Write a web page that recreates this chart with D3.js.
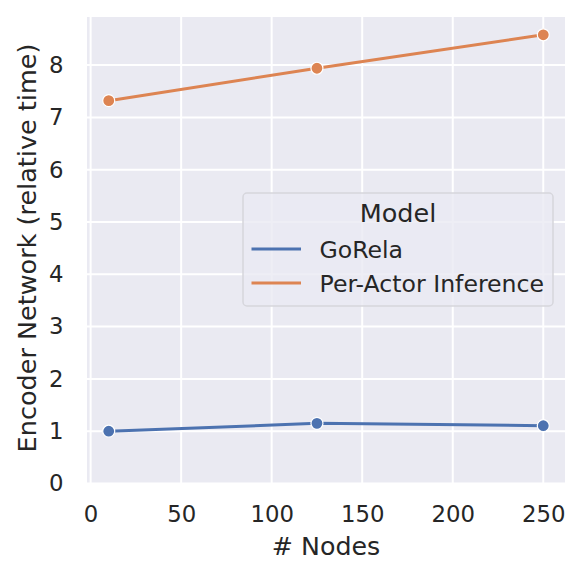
<!DOCTYPE html>
<html>
<head>
<meta charset="utf-8">
<script src="https://cdn.jsdelivr.net/npm/d3@7"></script>
<style>
    body { margin: 0; background: #fff; }
    text { font-family: "DejaVu Sans", sans-serif; fill: #262626; }
</style>
</head>
<body>
<svg id="chart"></svg>
<script>

let nodes = [10, 125, 250]
let models = ['GoRela', 'Per-Actor Inference']
let gorela = [1.0, 1.15, 1.105]
let perActor = [7.32, 7.94, 8.58]
let xTicks = [0, 50, 100, 150, 200, 250]
let yTicks = [0, 1, 2, 3, 4, 5, 6, 7, 8]
let colors = ['#4C72B0', '#DD8452']

let width = 582
let height = 576
let margin = { left: 87, right: 17, top: 17, bottom: 92.5 }

let svg = d3.select('#chart').attr('width', width).attr('height', height)

let x = d3.scaleLinear()
    .domain([-2, 262])
    .range([margin.left, width - margin.right])

let y = d3.scaleLinear()
    .domain([0, 8.92])
    .range([height - margin.bottom, margin.top])

// background
svg.append('rect')
    .attr('x', margin.left)
    .attr('y', margin.top)
    .attr('width', width - margin.left - margin.right)
    .attr('height', height - margin.top - margin.bottom)
    .attr('fill', '#EAEAF2')

// grid
svg.append('g')
    .selectAll('line').data(xTicks).enter()
    .append('line')
    .attr('x1', d => x(d)).attr('x2', d => x(d))
    .attr('y1', margin.top).attr('y2', height - margin.bottom)
    .attr('stroke', '#fff').attr('stroke-width', 2)

svg.append('g')
    .selectAll('line').data(yTicks).enter()
    .append('line')
    .attr('x1', margin.left).attr('x2', width - margin.right)
    .attr('y1', d => y(d)).attr('y2', d => y(d))
    .attr('stroke', '#fff').attr('stroke-width', 2)

// axes, no domain line or tick marks
let xAxis = svg.append('g')
    .attr('transform', `translate(0,${height - margin.bottom})`)
    .call(d3.axisBottom(x).tickValues(xTicks).tickSize(0).tickPadding(22.5))
xAxis.select('.domain').remove()
xAxis.selectAll('text').attr('font-size', 22.8).attr('fill', '#262626')
    .style('font-family', '"DejaVu Sans", sans-serif')

let yAxis = svg.append('g')
    .attr('transform', `translate(${margin.left},0)`)
    .call(d3.axisLeft(y).tickValues(yTicks).tickSize(0).tickPadding(23.5))
yAxis.select('.domain').remove()
yAxis.selectAll('text').attr('font-size', 22.8).attr('fill', '#262626')
    .style('font-family', '"DejaVu Sans", sans-serif')

// axis labels
svg.append('text')
    .attr('x', (margin.left + width - margin.right) / 2)
    .attr('y', 555)
    .attr('text-anchor', 'middle')
    .attr('font-size', 25.3)
    .text('# Nodes')

svg.append('text')
    .attr('transform', `translate(36,248) rotate(-90)`)
    .attr('text-anchor', 'middle')
    .attr('font-size', 25.5)
    .text('Encoder Network (relative time)')

// lines and markers
let series = [gorela, perActor]
let line = d3.line()
    .x((d, i) => x(nodes[i]))
    .y(d => y(d))

series.forEach((values, k) => {
    svg.append('path')
        .datum(values)
        .attr('d', line)
        .attr('fill', 'none')
        .attr('stroke', colors[k])
        .attr('stroke-width', 3)
        .attr('stroke-linecap', 'round')

    svg.append('g')
        .selectAll('circle').data(values).enter()
        .append('circle')
        .attr('cx', (d, i) => x(nodes[i]))
        .attr('cy', d => y(d))
        .attr('r', 6)
        .attr('fill', colors[k])
        .attr('stroke', '#fff')
        .attr('stroke-width', 1.2)
})

// legend
let legend = svg.append('g').attr('transform', 'translate(243,193)')

legend.append('rect')
    .attr('width', 310)
    .attr('height', 113)
    .attr('rx', 4)
    .attr('fill', '#EAEAF2')
    .attr('fill-opacity', 0.8)
    .attr('stroke', '#d6d6dc')
    .attr('stroke-width', 1.5)

legend.append('text')
    .attr('x', 155)
    .attr('y', 29)
    .attr('text-anchor', 'middle')
    .attr('font-size', 25.5)
    .text('Model')

models.forEach((m, k) => {
    let yy = 56 + k * 34
    legend.append('line')
        .attr('x1', 8.5).attr('x2', 58)
        .attr('y1', yy).attr('y2', yy)
        .attr('stroke', colors[k])
        .attr('stroke-width', 3)
    legend.append('text')
        .attr('x', 76.5)
        .attr('y', yy + 8.5)
        .attr('font-size', 23.6)
        .text(m)
})

</script>
</body>
</html>
